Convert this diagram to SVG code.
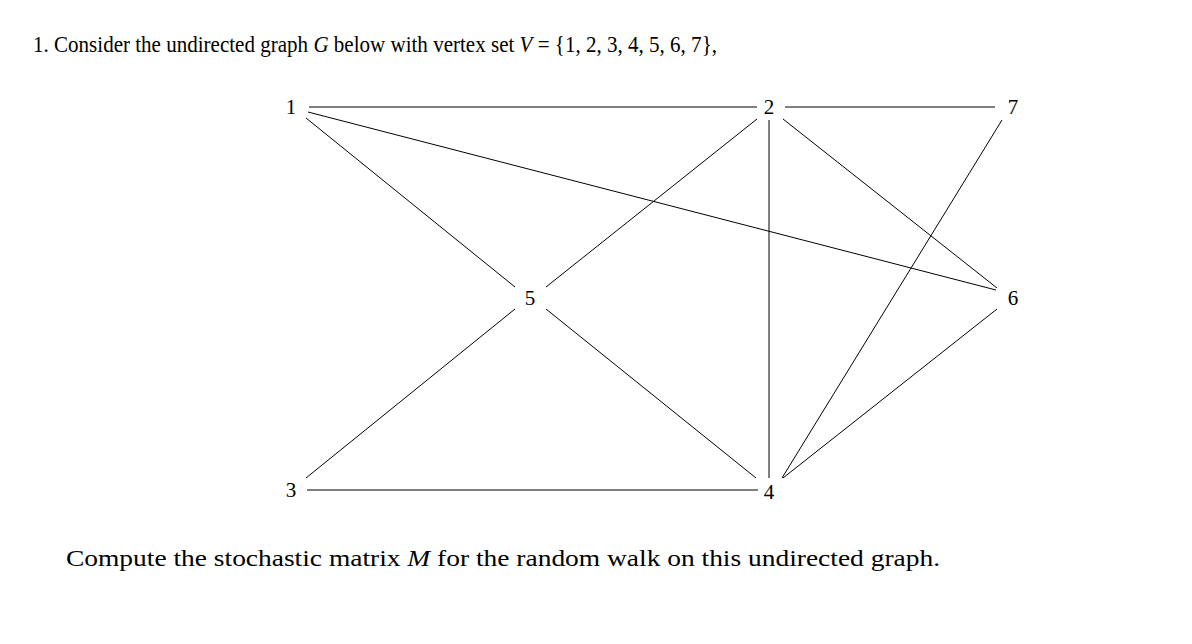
<svg xmlns="http://www.w3.org/2000/svg" width="1192" height="644" viewBox="0 0 1192 644">
<style>
text{font-family:"Liberation Serif","DejaVu Serif",serif;font-size:24px;fill:#000}
.n{text-anchor:middle;dominant-baseline:central;font-size:21px}
line{stroke:#000;stroke-width:1}
</style>
<rect width="1192" height="644" fill="#fff"/>
<text x="33" y="52" textLength="684" lengthAdjust="spacingAndGlyphs">1.  Consider the undirected graph <tspan font-style="italic">G</tspan> below with vertex set <tspan font-style="italic">V</tspan> = {1, 2, 3, 4, 5, 6, 7},</text>
<g id="edges">
<line x1="309" y1="107" x2="757" y2="107"/>
<line x1="785" y1="107" x2="995" y2="107"/>
<line x1="306" y1="118" x2="515" y2="287"/>
<line x1="308" y1="112" x2="996" y2="290"/>
<line x1="757" y1="119" x2="546" y2="287"/>
<line x1="769" y1="120" x2="769" y2="478"/>
<line x1="783" y1="119" x2="997" y2="288"/>
<line x1="1002" y1="120" x2="782" y2="478"/>
<line x1="515" y1="309" x2="306" y2="478"/>
<line x1="546" y1="309" x2="756" y2="478"/>
<line x1="997" y1="309" x2="783" y2="478"/>
<line x1="307" y1="490" x2="758" y2="490"/>
</g>
<g id="n1"><text class="n" x="291" y="107">1</text></g>
<g id="n2"><text class="n" x="769" y="107">2</text></g>
<g id="n7"><text class="n" x="1013" y="107">7</text></g>
<g id="n5"><text class="n" x="530" y="298">5</text></g>
<g id="n6"><text class="n" x="1013" y="298">6</text></g>
<g id="n3"><text class="n" x="291" y="490">3</text></g>
<g id="n4"><text class="n" x="769" y="492">4</text></g>
<text x="66" y="566" textLength="874" lengthAdjust="spacingAndGlyphs">Compute the stochastic matrix <tspan font-style="italic">M</tspan> for the random walk on this undirected graph.</text>
</svg>
